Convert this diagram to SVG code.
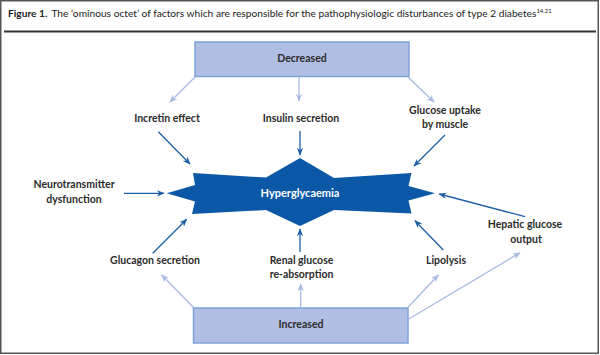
<svg xmlns="http://www.w3.org/2000/svg" width="600" height="355" viewBox="0 0 600 355">
<defs>
<style>
.lbl{font-family:Lato,"Liberation Sans",sans-serif;font-weight:700;font-size:10.5px;fill:#2b2b2b;text-anchor:middle}
.box{fill:#b1bee3;stroke:#7fa2d8;stroke-width:1.5}
.lt{stroke:#a9b9e2;stroke-width:1.3;fill:none}
.dk{stroke:#1f5ea8;stroke-width:1.3;fill:none}
</style>
<marker id="ahL" viewBox="0 0 10 10" refX="9" refY="5" markerWidth="8" markerHeight="8" markerUnits="userSpaceOnUse" orient="auto"><path d="M0,1 L10,5 L0,9 L3,5 Z" fill="#a9b9e2"/></marker>
<marker id="ahD" viewBox="0 0 10 10" refX="9" refY="5" markerWidth="8" markerHeight="8" markerUnits="userSpaceOnUse" orient="auto"><path d="M0,1 L10,5 L0,9 L3,5 Z" fill="#1f5ea8"/></marker>
</defs>
<rect x="0" y="0" width="600" height="355" fill="#fff"/>
<rect x="0.75" y="0.75" width="597.5" height="352.5" fill="none" stroke="#555" stroke-width="1.5"/>
<text x="8" y="17" font-family="Lato,'Liberation Sans',sans-serif" font-size="10.2" fill="#222"><tspan font-weight="700">Figure 1.</tspan><tspan dx="4">The ‘ominous octet’ of factors which are responsible for the pathophysiologic disturbances of type 2 diabetes</tspan><tspan font-size="6" dy="-4">14,21</tspan></text>
<line x1="4" y1="31.5" x2="596" y2="31.5" stroke="#333" stroke-width="2"/>

<g id="connectors">
<line class="lt" x1="195" y1="77" x2="170" y2="102" marker-end="url(#ahL)"/>
<line class="lt" x1="299" y1="77" x2="299" y2="101" marker-end="url(#ahL)"/>
<line class="lt" x1="408" y1="77" x2="434" y2="102" marker-end="url(#ahL)"/>
<line class="lt" x1="194" y1="308" x2="161.7" y2="275" marker-end="url(#ahL)"/>
<line class="lt" x1="300.7" y1="307" x2="300.7" y2="284" marker-end="url(#ahL)"/>
<line class="lt" x1="408.3" y1="307" x2="438.3" y2="275" marker-end="url(#ahL)"/>
<line class="lt" x1="408.3" y1="319.3" x2="520" y2="252.7" marker-end="url(#ahL)"/>
<line class="dk" x1="158.3" y1="131.7" x2="190" y2="164" marker-end="url(#ahD)"/>
<line class="dk" x1="300" y1="131" x2="300" y2="155" marker-end="url(#ahD)"/>
<line class="dk" x1="445" y1="135" x2="414" y2="166" marker-end="url(#ahD)"/>
<line class="dk" x1="124" y1="193.3" x2="164" y2="193.3" marker-end="url(#ahD)"/>
<line class="dk" x1="152.7" y1="253.3" x2="186.7" y2="219.3" marker-end="url(#ahD)"/>
<line class="dk" x1="300" y1="252" x2="300" y2="229" marker-end="url(#ahD)"/>
<line class="dk" x1="443.3" y1="250" x2="415" y2="220.7" marker-end="url(#ahD)"/>
<line class="dk" x1="525" y1="216.7" x2="439.3" y2="194" marker-end="url(#ahD)"/>
</g>

<g id="decreased"><rect class="box" x="195" y="42" width="214" height="34.5"/><text class="lbl" x="302" y="61.5">Decreased</text></g>
<g id="increased"><rect class="box" x="193.5" y="308" width="214.5" height="35"/><text class="lbl" x="301" y="327.5">Increased</text></g>
<g id="hyperglycaemia"><polygon points="166.7,193.3 195,185 193,173 266,177.5 300,158 334,178 411.5,173 408.5,186 435,193.3 408.5,200.5 411.5,213.5 334,210 300,226 266,210 192,214 195,201.5" fill="#0b58a6"/><text x="300" y="197" font-family="Lato,'Liberation Sans',sans-serif" font-weight="700" font-size="11" fill="#fff" text-anchor="middle">Hyperglycaemia</text></g>
<g id="incretin"><text class="lbl" x="167" y="121.7">Incretin effect</text></g>
<g id="insulin"><text class="lbl" x="301" y="121.7">Insulin secretion</text></g>
<g id="glucose-uptake"><text class="lbl" x="445" y="114">Glucose uptake</text><text class="lbl" x="445" y="128.3">by muscle</text></g>
<g id="neuro"><text class="lbl" x="74" y="188.3">Neurotransmitter</text><text class="lbl" x="74" y="203.3">dysfunction</text></g>
<g id="glucagon"><text class="lbl" x="155" y="264">Glucagon secretion</text></g>
<g id="renal"><text class="lbl" x="301.5" y="264">Renal glucose</text><text class="lbl" x="301.5" y="278.3">re-absorption</text></g>
<g id="lipolysis"><text class="lbl" x="446" y="264">Lipolysis</text></g>
<g id="hepatic"><text class="lbl" x="525" y="228.3">Hepatic glucose</text><text class="lbl" x="526" y="243.3">output</text></g>
</svg>
